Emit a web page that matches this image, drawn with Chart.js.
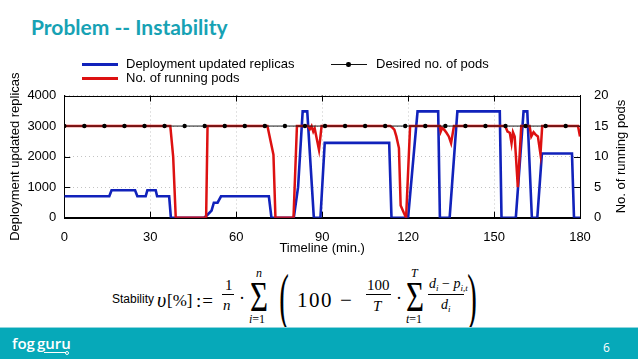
<!DOCTYPE html>
<html>
<head>
<meta charset="utf-8">
<script src="https://cdn.jsdelivr.net/npm/chart.js@4.4.0/dist/chart.umd.min.js"></script>
<style>
  body { margin: 0; width: 638px; height: 359px; overflow: hidden; background: #fff; position: relative; font-family: 'Liberation Sans', Arial, sans-serif; }
  #title { position: absolute; left: 31px; top: 16px; font: bold 21px/21px Lato, sans-serif; color: #17a2b4; white-space: nowrap; }
  #wrap { position: absolute; left: 0; top: 40px; width: 638px; height: 217px; }
  .leg { position: absolute; font-size: 13px; line-height: 14px; color: #000; white-space: nowrap; }
  .sw { position: absolute; height: 2.5px; }
  .m { position: absolute; font-family: 'Liberation Serif', serif; line-height: 1; white-space: nowrap; transform: translateY(-50%); color: #000; }
  .bar { position: absolute; height: 1px; background: #000; }
  #footer { position: absolute; left: 0; top: 327px; width: 638px; height: 32px; background: #06a9b9; border-top: 1px solid #8fd6de; }
  #logo { position: absolute; left: 12px; top: 7px; color: #fff; font: 600 15px/16px 'Open Sans', sans-serif; }
  #page { position: absolute; left: 603px; top: 14px; color: #fff; font: 12px/12px 'Open Sans', sans-serif; }
</style>
</head>
<body>
<div id="wrap"><canvas id="chart"></canvas></div>

<div id="title">Problem -- Instability</div>

<!-- legend -->
<div class="sw" style="left:82px;top:63px;width:36px;background:#1122bb"></div>
<div class="leg" style="left:126px;top:57px">Deployment updated replicas</div>
<div class="sw" style="left:82px;top:77px;width:36px;background:#dd1111"></div>
<div class="leg" style="left:126px;top:71px">No. of running pods</div>
<div class="sw" style="left:331px;top:63.5px;width:36px;height:1.3px;background:#111"></div>
<div style="position:absolute;left:346px;top:62px;width:4.5px;height:4.5px;border-radius:50%;background:#000"></div>
<div class="leg" style="left:376px;top:57px">Desired no. of pods</div>

<!-- stability formula -->
<div class="m" style="left:112px;top:299px;font-family:'Liberation Sans',sans-serif;font-size:12px">Stability</div>
<div class="m" style="left:157px;top:300px;font-size:20px"><i>υ</i></div>
<div class="m" style="left:167px;top:300px;font-size:17px">[%]</div>
<div class="m" style="left:196px;top:300px;font-size:19px;letter-spacing:1px">:=</div>
<div class="m" style="left:225px;top:285px;font-size:15px">1</div>
<div class="bar" style="left:222px;top:294px;width:12px"></div>
<div class="m" style="left:223px;top:305px;font-size:15px"><i>n</i></div>
<div class="m" style="left:239px;top:298px;font-size:18px">·</div>
<div class="m" style="left:250px;top:297px;font-size:31px;transform:translateY(-50%) scaleY(1.35)">Σ</div>
<div class="m" style="left:256px;top:273px;font-size:12px"><i>n</i></div>
<div class="m" style="left:249px;top:319px;font-size:12px"><i>i</i>=1</div>
<div class="m" style="left:280px;top:297px;font-size:24px;transform:translateY(-50%) scale(1.2,2.6)">(</div>
<div class="m" style="left:297px;top:300px;font-size:21px;letter-spacing:1.5px">100</div>
<div class="m" style="left:340px;top:300px;font-size:21px">−</div>
<div class="m" style="left:367px;top:285px;font-size:15px">100</div>
<div class="bar" style="left:366px;top:294px;width:25px"></div>
<div class="m" style="left:373px;top:306px;font-size:15px"><i>T</i></div>
<div class="m" style="left:396px;top:298px;font-size:18px">·</div>
<div class="m" style="left:406px;top:297px;font-size:31px;transform:translateY(-50%) scaleY(1.35)">Σ</div>
<div class="m" style="left:411px;top:273px;font-size:12px"><i>T</i></div>
<div class="m" style="left:406px;top:319px;font-size:12px"><i>t</i>=1</div>
<div class="m" style="left:429px;top:285px;font-size:14px"><i>d</i><sub style="font-size:9px"><i>i</i></sub> − <i>p</i><sub style="font-size:9px"><i>i,t</i></sub></div>
<div class="bar" style="left:428px;top:294px;width:36px"></div>
<div class="m" style="left:441px;top:306px;font-size:14px"><i>d</i><sub style="font-size:9px"><i>i</i></sub></div>
<div class="m" style="left:468px;top:297px;font-size:24px;transform:translateY(-50%) scale(1.2,2.6)">)</div>

<div id="footer">
  <div id="logo">fog<span style="margin-left:2px">guru</span></div>
  <div style="position:absolute;left:44px;top:24px;width:22px;height:1px;background:#fff"></div>
  <div style="position:absolute;left:65px;top:22.5px;width:4px;height:4px;border-radius:50%;border:1px solid #fff;box-sizing:border-box"></div>
  <div id="page">6</div>
</div>

<script>
// Data
// Blue: deployment updated replicas (left axis)
const replicaTimes  = [0, 15.7, 16.5, 24.7, 25.5, 28.4, 29.0, 31.9, 32.4, 36.6, 37.2, 48.8, 49.9, 51.4, 52.2, 53.5, 54.7, 71.4, 72.3, 80.1, 81.6, 83.2, 84.8, 87.1, 89.4, 90.9, 113.4, 114.2, 120.0, 123.3, 130.5, 131.1, 134.5, 137.2, 152.0, 152.6, 157.6, 160.3, 161.6, 163.2, 165.1, 166.7, 177.2, 177.9, 180];
const replicaValues = [700, 700, 900, 900, 700, 700, 900, 900, 700, 700, 0, 0, 90, 230, 490, 490, 700, 700, 0, 0, 1000, 3480, 3480, 0, 0, 2450, 2450, 0, 0, 3480, 3480, 0, 0, 3480, 3480, 0, 0, 3480, 3480, 0, 0, 2100, 2100, 0, 0];

// Red: number of running pods (right axis)
const podTimes  = [0, 37.0, 38.0, 38.9, 49.5, 50.0, 70.9, 73.0, 73.7, 80.0, 81.2, 85.1, 85.7, 86.3, 86.9, 87.4, 88.9, 89.8, 113.8, 114.6, 115.2, 115.9, 116.8, 117.4, 118.5, 119.3, 120.7, 131.1, 131.4, 131.9, 132.6, 133.4, 134.2, 135.0, 136.0, 153.9, 154.7, 155.5, 156.1, 156.6, 157.2, 158.3, 159.5, 162.4, 163.0, 163.8, 164.5, 165.3, 166.2, 166.8, 179.3, 180];
const podValues = [15, 15, 10, 0, 0, 15, 15, 10.3, 0, 0, 15, 15, 14.5, 15, 14.1, 14.6, 11.1, 15, 15, 14.7, 14.4, 13.3, 11.4, 2.0, 0.8, 0, 15, 15, 14.1, 14.7, 14.4, 13.9, 13.3, 12.2, 15, 15, 14.1, 13.9, 12.2, 14.0, 13.3, 5.0, 15, 15, 13.3, 14.0, 13.6, 13.3, 10.4, 15, 15, 13.3];

// Black: desired number of pods (marker every 7 min)
const desiredTimes  = [0, 7, 14, 21, 28, 35, 42, 49, 56, 63, 70, 77, 84, 91, 98, 105, 112, 119, 126, 133, 140, 147, 154, 161, 168, 175, 180];
const desiredValues = [15, 15, 15, 15, 15, 15, 15, 15, 15, 15, 15, 15, 15, 15, 15, 15, 15, 15, 15, 15, 15, 15, 15, 15, 15, 15, 15];

const xTicks = [0, 30, 60, 90, 120, 150, 180];

const toPoints = (xs, ys) => xs.map((x, i) => ({ x: x, y: ys[i] }));

Chart.defaults.font.family = "'Liberation Sans', Arial, sans-serif";
Chart.defaults.font.size = 13;
Chart.defaults.color = '#000';

// gnuplot-like frame with inward ticks on all sides, plus the two axis titles
const frame = {
  id: 'frame',
  beforeDatasetsDraw(chart) {
    const { ctx, chartArea: a, scales } = chart;
    const len = 6;
    ctx.save();
    ctx.strokeStyle = '#000';
    ctx.lineWidth = 1;
    ctx.beginPath();
    xTicks.forEach(v => {
      const px = Math.round(scales.x.getPixelForValue(v)) + 0.5;
      ctx.moveTo(px, a.bottom); ctx.lineTo(px, a.bottom - len);
      ctx.moveTo(px, a.top); ctx.lineTo(px, a.top + len);
    });
    scales.y.ticks.forEach(t => {
      const py = Math.round(scales.y.getPixelForValue(t.value)) + 0.5;
      ctx.moveTo(a.left, py); ctx.lineTo(a.left + len, py);
    });
    scales.y2.ticks.forEach(t => {
      const py = Math.round(scales.y2.getPixelForValue(t.value)) + 0.5;
      ctx.moveTo(a.right, py); ctx.lineTo(a.right - len, py);
    });
    ctx.stroke();
    ctx.strokeRect(Math.round(a.left) + 0.5, Math.round(a.top) + 0.5, Math.round(a.right - a.left), Math.round(a.bottom - a.top));
    ctx.restore();
  },
  afterDraw(chart) {
    const { ctx, chartArea: a } = chart;
    const mid = (a.top + a.bottom) / 2;
    ctx.save();
    ctx.font = "13px 'Liberation Sans', Arial, sans-serif";
    ctx.fillStyle = '#000';
    ctx.textAlign = 'center';
    ctx.textBaseline = 'middle';
    [[15, 'Deployment updated replicas'], [621, 'No. of running pods']].forEach(([x, txt]) => {
      ctx.save();
      ctx.translate(x, mid);
      ctx.rotate(-Math.PI / 2);
      ctx.fillText(txt, 0, 0);
      ctx.restore();
    });
    ctx.restore();
  }
};

new Chart(document.getElementById('chart'), {
  type: 'line',
  data: {
    datasets: [
      {
        label: 'Desired no. of pods',
        data: toPoints(desiredTimes, desiredValues),
        yAxisID: 'y2',
        borderColor: '#1a1a1a',
        borderWidth: 1,
        pointRadius: c => (c.raw && c.raw.x % 7 === 0) ? 2.2 : 0,
        pointBackgroundColor: '#000',
        pointBorderWidth: 0,
        order: 1
      },
      {
        label: 'No. of running pods',
        data: toPoints(podTimes, podValues),
        yAxisID: 'y2',
        borderColor: '#dd1111',
        borderWidth: 2.5,
        pointRadius: 0,
        order: 2
      },
      {
        label: 'Deployment updated replicas',
        data: toPoints(replicaTimes, replicaValues),
        yAxisID: 'y',
        borderColor: '#1122bb',
        borderWidth: 2.6,
        pointRadius: 0,
        order: 3
      }
    ]
  },
  options: {
    responsive: true,
    maintainAspectRatio: false,
    animation: false,
    layout: { padding: { top: 55.5, left: 0, right: 0, bottom: 0 } },
    plugins: { legend: { display: false }, tooltip: { enabled: false } },
    scales: {
      x: {
        type: 'linear', min: 0, max: 180,
        afterBuildTicks: s => { s.ticks = xTicks.map(v => ({ value: v })); },
        afterFit: s => { s.height = 39.3; },
        ticks: { padding: 12, color: '#000', callback: v => String(v) },
        grid: { drawTicks: false, color: '#c4c4c4' },
        border: { color: '#000', dash: [1, 3] },
        title: { display: true, text: 'Timeline (min.)', color: '#000', padding: { top: 0, bottom: 1 } }
      },
      y: {
        position: 'left', min: 0, max: 4000,
        afterFit: s => { s.width = 64.3; },
        ticks: { stepSize: 1000, padding: 8, color: '#000', callback: v => String(v) },
        grid: { drawTicks: false, color: '#c4c4c4' },
        border: { color: '#000', dash: [1, 3] }
      },
      y2: {
        position: 'right', min: 0, max: 20,
        afterFit: s => { s.width = 58; },
        ticks: { stepSize: 5, padding: 14, color: '#000', callback: v => String(v) },
        grid: { display: false, drawTicks: false },
        border: { color: '#000' }
      }
    }
  },
  plugins: [frame]
});
</script>
</body>
</html>
